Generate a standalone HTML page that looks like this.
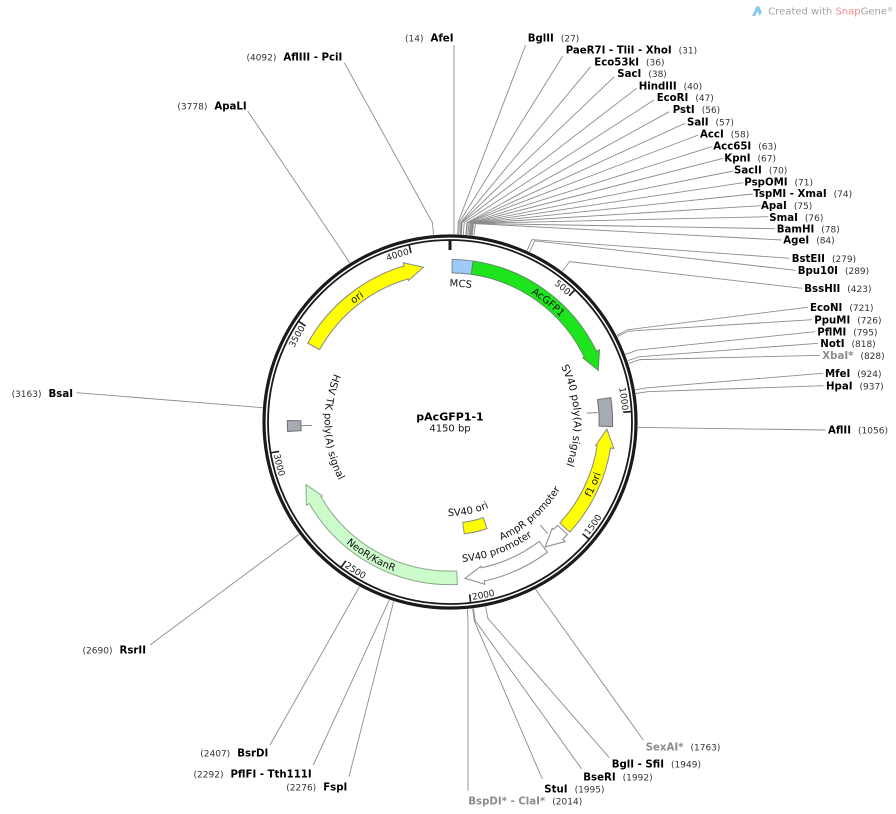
<!DOCTYPE html>
<html><head><meta charset="utf-8"><style>
html,body{margin:0;padding:0;background:#fff;width:896px;height:814px;overflow:hidden}
svg{display:block}
text{font-family:"DejaVu Sans","Liberation Sans",sans-serif}
</style></head><body>
<svg width="896" height="814" viewBox="0 0 896 814" xmlns="http://www.w3.org/2000/svg">
<rect width="896" height="814" fill="#fff"/>
<defs>
<path id="cwT" d="M450,594.5 A172.5,172.5 0 0 1 450,249.5 A172.5,172.5 0 0 1 450,594.5"/>
<path id="ccwT" d="M450,242.7 A179.3,179.3 0 0 0 450,601.3 A179.3,179.3 0 0 0 450,242.7"/>
<path id="cwF" d="M450,574.3 A152.3,152.3 0 0 1 450,269.7 A152.3,152.3 0 0 1 450,574.3"/>
<path id="ccwF" d="M450,262.4 A159.6,159.6 0 0 0 450,581.6 A159.6,159.6 0 0 0 450,262.4"/>
<path id="cwM" d="M450,557.5 A135.5,135.5 0 0 1 450,286.5 A135.5,135.5 0 0 1 450,557.5"/>
<path id="cwS" d="M450,546 A124,124 0 0 1 450,298 A124,124 0 0 1 450,546"/>
<path id="ccwH" d="M450,296.5 A125.5,125.5 0 0 0 450,547.5 A125.5,125.5 0 0 0 450,296.5"/>
<path id="ccwA" d="M450,293 A129,129 0 0 0 450,551 A129,129 0 0 0 450,293"/>
<path id="ccwP" d="M450,281.5 A140.5,140.5 0 0 0 450,562.5 A140.5,140.5 0 0 0 450,281.5"/>
<path id="ccwO" d="M450,328 A94,94 0 0 0 450,516 A94,94 0 0 0 450,328"/>
</defs>

<!-- Created with SnapGene -->
<path d="M752,16 L756.5,6.3 L759.2,6.3 L761.8,12 L759.6,16 L757.6,11.4 L755.2,16 Z" fill="#86c9ec"/>
<text x="768.3" y="14.3" font-size="10" fill="#a3a3a3">Created with <tspan fill="#ef8a8a">Snap</tspan>Gene<tspan font-size="6" dy="-3">®</tspan></text>

<!-- enzyme leader lines -->
<g stroke="#8c8c8c" stroke-width="0.9" fill="none">
<line x1="454" y1="45" x2="454" y2="234"/>
<polyline points="457.68,234.16 458.17,222.17 525.7,45"/>
<polyline points="458.82,234.21 459.38,222.22 562.7,56"/>
<polyline points="460.24,234.28 460.90,222.30 590.7,66.7"/>
<polyline points="460.81,234.31 461.50,222.33 614.3,76.7"/>
<polyline points="461.38,234.34 462.11,222.37 636.7,88.3"/>
<polyline points="463.37,234.48 464.22,222.51 654,100"/>
<polyline points="465.92,234.68 466.94,222.72 669.3,111.7"/>
<polyline points="466.20,234.70 467.24,222.74 685,123.3"/>
<polyline points="466.49,234.72 467.54,222.77 698.3,135"/>
<polyline points="467.91,234.85 469.05,222.91 711.7,146.7"/>
<polyline points="469.04,234.97 470.25,223.03 723.3,158.3"/>
<polyline points="469.89,235.05 471.16,223.12 733.3,171"/>
<polyline points="470.17,235.09 471.46,223.15 743.3,182.7"/>
<polyline points="471.02,235.18 472.36,223.25 752.7,194"/>
<polyline points="471.30,235.21 472.66,223.29 760.7,205.7"/>
<polyline points="471.59,235.24 472.96,223.32 768.3,216.7"/>
<polyline points="472.15,235.31 473.56,223.39 775,228.7"/>
<polyline points="473.84,235.52 475.37,223.62 781.7,240"/>
<polyline points="527.07,250.52 531.99,239.58 789.5,258.3"/>
<polyline points="529.66,251.71 534.74,240.84 795.5,270.3"/>
<polyline points="562.35,271.27 569.53,261.65 802,288.3"/>
<polyline points="616.82,335.32 627.47,329.78 807.5,307.3"/>
<polyline points="617.48,336.59 628.17,331.14 812,319.7"/>
<polyline points="625.47,354.52 636.67,350.22 815,331.7"/>
<polyline points="627.72,360.67 639.06,356.76 818,343.3"/>
<polyline points="628.63,363.36 640.03,359.62 820,355.3"/>
<polyline points="635.23,389.85 647.06,387.80 822.5,373.3"/>
<polyline points="635.83,393.50 647.69,391.68 823.5,385.7"/>
<polyline points="637.93,427.27 649.92,427.60 825.5,430"/>
<polyline points="535.54,589.41 643.3,740"/>
<polyline points="485.65,606.59 487.92,618.37 609.3,757.7"/>
<polyline points="473.56,608.52 475.07,620.42 581.7,769"/>
<polyline points="472.72,608.62 474.17,620.53 542.3,779"/>
<polyline points="467.33,609.20 468,621 468,790.7"/>
<polyline points="433.51,234.72 432.46,222.77 344.3,62.7"/>
<polyline points="349.62,263.04 343.21,252.89 247.7,111"/>
<polyline points="262.55,407.64 76.7,392.7"/>
<polyline points="299.16,534.21 150,645"/>
<polyline points="359.43,586.75 270,745"/>
<polyline points="389.35,599.95 313.3,765"/>
<polyline points="393.69,601.37 349,776.7"/>
</g>

<!-- enzyme labels: right side -->
<g font-size="10.2" fill="#000">
<text x="527.7" y="41.3"><tspan font-weight="bold">BglII</tspan><tspan dx="7" font-size="9" fill="#333">(27)</tspan></text>
<text x="565.7" y="53.6"><tspan font-weight="bold">PaeR7I - TliI - XhoI</tspan><tspan dx="7" font-size="9" fill="#333">(31)</tspan></text>
<text x="594.3" y="65.3"><tspan font-weight="bold">Eco53kI</tspan><tspan dx="7" font-size="9" fill="#333">(36)</tspan></text>
<text x="617.3" y="76.9"><tspan font-weight="bold">SacI</tspan><tspan dx="7" font-size="9" fill="#333">(38)</tspan></text>
<text x="638.7" y="89.3"><tspan font-weight="bold">HindIII</tspan><tspan dx="7" font-size="9" fill="#333">(40)</tspan></text>
<text x="656.7" y="100.9"><tspan font-weight="bold">EcoRI</tspan><tspan dx="7" font-size="9" fill="#333">(47)</tspan></text>
<text x="672.7" y="112.9"><tspan font-weight="bold">PstI</tspan><tspan dx="7" font-size="9" fill="#333">(56)</tspan></text>
<text x="687" y="125.3"><tspan font-weight="bold">SalI</tspan><tspan dx="7" font-size="9" fill="#333">(57)</tspan></text>
<text x="700" y="137.3"><tspan font-weight="bold">AccI</tspan><tspan dx="7" font-size="9" fill="#333">(58)</tspan></text>
<text x="713.3" y="149.3"><tspan font-weight="bold">Acc65I</tspan><tspan dx="7" font-size="9" fill="#333">(63)</tspan></text>
<text x="724.3" y="161.3"><tspan font-weight="bold">KpnI</tspan><tspan dx="7" font-size="9" fill="#333">(67)</tspan></text>
<text x="734" y="173.3"><tspan font-weight="bold">SacII</tspan><tspan dx="7" font-size="9" fill="#333">(70)</tspan></text>
<text x="744.3" y="185.3"><tspan font-weight="bold">PspOMI</tspan><tspan dx="7" font-size="9" fill="#333">(71)</tspan></text>
<text x="753.3" y="196.9"><tspan font-weight="bold">TspMI - XmaI</tspan><tspan dx="7" font-size="9" fill="#333">(74)</tspan></text>
<text x="761" y="208.9"><tspan font-weight="bold">ApaI</tspan><tspan dx="7" font-size="9" fill="#333">(75)</tspan></text>
<text x="769.3" y="220.9"><tspan font-weight="bold">SmaI</tspan><tspan dx="7" font-size="9" fill="#333">(76)</tspan></text>
<text x="776.7" y="232.3"><tspan font-weight="bold">BamHI</tspan><tspan dx="7" font-size="9" fill="#333">(78)</tspan></text>
<text x="783.3" y="243.6"><tspan font-weight="bold">AgeI</tspan><tspan dx="7" font-size="9" fill="#333">(84)</tspan></text>
<text x="791.7" y="261.9"><tspan font-weight="bold">BstEII</tspan><tspan dx="7" font-size="9" fill="#333">(279)</tspan></text>
<text x="797.7" y="273.9"><tspan font-weight="bold">Bpu10I</tspan><tspan dx="7" font-size="9" fill="#333">(289)</tspan></text>
<text x="804.3" y="291.9"><tspan font-weight="bold">BssHII</tspan><tspan dx="7" font-size="9" fill="#333">(423)</tspan></text>
<text x="810" y="310.9"><tspan font-weight="bold">EcoNI</tspan><tspan dx="7" font-size="9" fill="#333">(721)</tspan></text>
<text x="814.3" y="323.3"><tspan font-weight="bold">PpuMI</tspan><tspan dx="7" font-size="9" fill="#333">(726)</tspan></text>
<text x="817.3" y="335.3"><tspan font-weight="bold">PflMI</tspan><tspan dx="7" font-size="9" fill="#333">(795)</tspan></text>
<text x="820.3" y="346.9"><tspan font-weight="bold">NotI</tspan><tspan dx="7" font-size="9" fill="#333">(818)</tspan></text>
<text x="822.3" y="358.9"><tspan font-weight="bold" fill="#8c8c8c">XbaI*</tspan><tspan dx="7" font-size="9" fill="#333">(828)</tspan></text>
<text x="825" y="376.9"><tspan font-weight="bold">MfeI</tspan><tspan dx="7" font-size="9" fill="#333">(924)</tspan></text>
<text x="826" y="389.3"><tspan font-weight="bold">HpaI</tspan><tspan dx="7" font-size="9" fill="#333">(937)</tspan></text>
<text x="828" y="433.6"><tspan font-weight="bold">AflII</tspan><tspan dx="7" font-size="9" fill="#333">(1056)</tspan></text>
<text x="645.7" y="750.3"><tspan font-weight="bold" fill="#8c8c8c">SexAI*</tspan><tspan dx="7" font-size="9" fill="#333">(1763)</tspan></text>
<text x="611.7" y="767.6"><tspan font-weight="bold">BglI - SfiI</tspan><tspan dx="7" font-size="9" fill="#333">(1949)</tspan></text>
<text x="583.3" y="780.3"><tspan font-weight="bold">BseRI</tspan><tspan dx="7" font-size="9" fill="#333">(1992)</tspan></text>
<text x="544.3" y="792.6"><tspan font-weight="bold">StuI</tspan><tspan dx="7" font-size="9" fill="#333">(1995)</tspan></text>
<text x="468.3" y="804.3"><tspan font-weight="bold" fill="#8c8c8c">BspDI* - ClaI*</tspan><tspan dx="7" font-size="9" fill="#333">(2014)</tspan></text>
</g>
<!-- enzyme labels: left side -->
<g font-size="10.2" fill="#000" text-anchor="end">
<text x="453.5" y="41.3"><tspan font-size="9" fill="#333">(14)</tspan><tspan dx="7" font-weight="bold">AfeI</tspan></text>
<text x="342.3" y="60.3"><tspan font-size="9" fill="#333">(4092)</tspan><tspan dx="7" font-weight="bold">AflIII - PciI</tspan></text>
<text x="246.7" y="109.6"><tspan font-size="9" fill="#333">(3778)</tspan><tspan dx="7" font-weight="bold">ApaLI</tspan></text>
<text x="73" y="397.1"><tspan font-size="9" fill="#333">(3163)</tspan><tspan dx="7" font-weight="bold">BsaI</tspan></text>
<text x="146" y="653.6"><tspan font-size="9" fill="#333">(2690)</tspan><tspan dx="7" font-weight="bold">RsrII</tspan></text>
<text x="268.3" y="756.3"><tspan font-size="9" fill="#333">(2407)</tspan><tspan dx="7" font-weight="bold">BsrDI</tspan></text>
<text x="311.7" y="777.6"><tspan font-size="9" fill="#333">(2292)</tspan><tspan dx="7" font-weight="bold">PflFI - Tth111I</tspan></text>
<text x="347.3" y="790.3"><tspan font-size="9" fill="#333">(2276)</tspan><tspan dx="7" font-weight="bold">FspI</tspan></text>
</g>

<!-- backbone -->
<circle cx="450" cy="422" r="186" fill="none" stroke="#1a1a1a" stroke-width="3.2"/>
<circle cx="450" cy="422" r="182" fill="none" stroke="#1a1a1a" stroke-width="1.8"/>

<!-- ticks -->
<g stroke="#1a1a1a" stroke-width="1.6">
<line x1="450" y1="240" x2="450" y2="250" stroke-width="3"/>
<line x1="450" y1="240.5" x2="450" y2="248.5" transform="rotate(43.373 450 422)"/>
<line x1="450" y1="240.5" x2="450" y2="248.5" transform="rotate(86.747 450 422)"/>
<line x1="450" y1="240.5" x2="450" y2="248.5" transform="rotate(130.120 450 422)"/>
<line x1="450" y1="240.5" x2="450" y2="248.5" transform="rotate(173.494 450 422)"/>
<line x1="450" y1="240.5" x2="450" y2="248.5" transform="rotate(216.867 450 422)"/>
<line x1="450" y1="240.5" x2="450" y2="248.5" transform="rotate(260.241 450 422)"/>
<line x1="450" y1="240.5" x2="450" y2="248.5" transform="rotate(303.614 450 422)"/>
<line x1="450" y1="240.5" x2="450" y2="248.5" transform="rotate(346.988 450 422)"/>
</g>
<g font-size="9" fill="#222">
<text text-anchor="end"><textPath href="#cwT" startOffset="670.5">500</textPath></text>
<text text-anchor="end"><textPath href="#cwT" startOffset="801.1">1000</textPath></text>
<text text-anchor="end"><textPath href="#cwT" startOffset="370.2">3500</textPath></text>
<text text-anchor="end"><textPath href="#cwT" startOffset="500.7">4000</textPath></text>
<text text-anchor="start"><textPath href="#ccwT" startOffset="721.4">1500</textPath></text>
<text text-anchor="start"><textPath href="#ccwT" startOffset="585.6">2000</textPath></text>
<text text-anchor="start"><textPath href="#ccwT" startOffset="449.9">2500</textPath></text>
<text text-anchor="start"><textPath href="#ccwT" startOffset="314.2">3000</textPath></text>
</g>

<!-- features -->
<g fill="none">
<!-- MCS -->
<circle cx="450" cy="422" r="155.9" stroke="#7a8796" stroke-width="14.5" stroke-dasharray="21.09 2000" transform="rotate(-89.4 450 422)"/>
<circle cx="450" cy="422" r="155.9" stroke="#9dcaf7" stroke-width="12.5" stroke-dasharray="19.18 2000" transform="rotate(-89.05 450 422)"/>
<!-- AcGFP1 -->
<circle cx="450" cy="422" r="155.9" stroke="#5b8f5b" stroke-width="14.5" stroke-dasharray="152.92 2000" transform="rotate(-82.0 450 422)"/>
<polygon points="430.92,257.10 450,265 433.05,275.48" fill="#1ee41e" stroke="#5b8f5b" stroke-width="1" transform="rotate(70.8 450 422)"/>
<circle cx="450" cy="422" r="155.9" stroke="#1ee41e" stroke-width="12.5" stroke-dasharray="153.60 2000" transform="rotate(-81.65 450 422)"/>
<!-- SV40 poly(A) signal -->
<circle cx="450" cy="422" r="155.9" stroke="#6e6e6e" stroke-width="14.5" stroke-dasharray="28.84 2000" transform="rotate(-8.8 450 422)"/>
<circle cx="450" cy="422" r="155.9" stroke="#a6abb3" stroke-width="12.5" stroke-dasharray="26.94 2000" transform="rotate(-8.45 450 422)"/>
<!-- f1 ori -->
<circle cx="450" cy="422" r="155.9" stroke="#888" stroke-width="14.5" stroke-dasharray="91.34 2000" transform="rotate(9.2 450 422)"/>
<polygon points="469.08,257.10 450,265 466.95,275.48" fill="#ffff00" stroke="#888" stroke-width="1" transform="rotate(92.6 450 422)"/>
<circle cx="450" cy="422" r="155.9" stroke="#ffff00" stroke-width="12.5" stroke-dasharray="91.97 2000" transform="rotate(8.6 450 422)"/>
<!-- AmpR promoter -->
<circle cx="450" cy="422" r="155.9" stroke="#888" stroke-width="14.5" stroke-dasharray="6.72 2000" transform="rotate(43.63 450 422)"/>
<polygon points="430.92,257.10 450,265 433.05,275.48" fill="#fff" stroke="#888" stroke-width="1" transform="rotate(142.7 450 422)"/>
<circle cx="450" cy="422" r="155.9" stroke="#fff" stroke-width="12.5" stroke-dasharray="7.35 2000" transform="rotate(44.0 450 422)"/>
<!-- SV40 promoter -->
<circle cx="450" cy="422" r="155.9" stroke="#888" stroke-width="14.5" stroke-dasharray="67.67 2000" transform="rotate(53.03 450 422)"/>
<polygon points="430.92,257.10 450,265 433.05,275.48" fill="#fff" stroke="#888" stroke-width="1" transform="rotate(174.5 450 422)"/>
<circle cx="450" cy="422" r="155.9" stroke="#fff" stroke-width="12.5" stroke-dasharray="68.30 2000" transform="rotate(53.4 450 422)"/>
<!-- SV40 ori -->
<circle cx="450" cy="422" r="107" stroke="#888" stroke-width="12.5" stroke-dasharray="23.16 2000" transform="rotate(70.6 450 422)"/>
<circle cx="450" cy="422" r="107" stroke="#ffff00" stroke-width="10.5" stroke-dasharray="21.29 2000" transform="rotate(71.1 450 422)"/>
<!-- NeoR/KanR -->
<circle cx="450" cy="422" r="155.9" stroke="#8aa88a" stroke-width="14.5" stroke-dasharray="170.52 2000" transform="rotate(87.23 450 422)"/>
<polygon points="430.92,257.10 450,265 433.05,275.48" fill="#ccfccc" stroke="#8aa88a" stroke-width="1" transform="rotate(246.5 450 422)"/>
<circle cx="450" cy="422" r="155.9" stroke="#ccfccc" stroke-width="12.5" stroke-dasharray="171.15 2000" transform="rotate(87.6 450 422)"/>
<!-- HSV TK poly(A) signal -->
<circle cx="450" cy="422" r="155.9" stroke="#6e6e6e" stroke-width="14.5" stroke-dasharray="11.43 2000" transform="rotate(176.5 450 422)"/>
<circle cx="450" cy="422" r="155.9" stroke="#a6abb3" stroke-width="12.5" stroke-dasharray="9.52 2000" transform="rotate(176.85 450 422)"/>
<!-- ori -->
<circle cx="450" cy="422" r="155.9" stroke="#888" stroke-width="14.5" stroke-dasharray="121.95 2000" transform="rotate(208.83 450 422)"/>
<polygon points="430.92,257.10 450,265 433.05,275.48" fill="#ffff00" stroke="#888" stroke-width="1" transform="rotate(350.25 450 422)"/>
<circle cx="450" cy="422" r="155.9" stroke="#ffff00" stroke-width="12.5" stroke-dasharray="122.58 2000" transform="rotate(209.2 450 422)"/>
</g>

<!-- inner leaders -->
<g stroke="#888" stroke-width="1">
<line x1="586.71" y1="413.16" x2="597.69" y2="412.45"/>
<line x1="312.04" y1="425.37" x2="301.04" y2="425.64"/>
<line x1="540.24" y1="525.08" x2="547.82" y2="533.73"/>
</g>

<!-- feature labels -->
<g font-size="10" fill="#111" text-anchor="middle">
<text><textPath href="#cwF" startOffset="380.38">ori</textPath></text>
<text><textPath href="#cwF" startOffset="582.66">AcGFP1</textPath></text>
<text><textPath href="#ccwF" startOffset="685.80">f1 ori</textPath></text>
<text><textPath href="#ccwF" startOffset="415.88">NeoR/KanR</textPath></text>
<text><textPath href="#cwM" startOffset="436.09">MCS</textPath></text>
<text font-size="10.4"><textPath href="#cwS" startOffset="577.41">SV40 poly(A) signal</textPath></text>
<text font-size="10.2"><textPath href="#ccwH" startOffset="202.61">HSV TK poly(A) signal</textPath></text>
<text><textPath href="#ccwA" startOffset="497.58">AmpR promoter</textPath></text>
<text><textPath href="#ccwP" startOffset="491.42">SV40 promoter</textPath></text>
<text><textPath href="#ccwO" startOffset="313.85">SV40 ori</textPath></text>
</g>

<!-- center -->
<text x="450" y="420.5" text-anchor="middle" font-size="11" font-weight="bold" fill="#000">pAcGFP1-1</text>
<text x="450" y="431.5" text-anchor="middle" font-size="10" fill="#111">4150 bp</text>
</svg>
</body></html>
